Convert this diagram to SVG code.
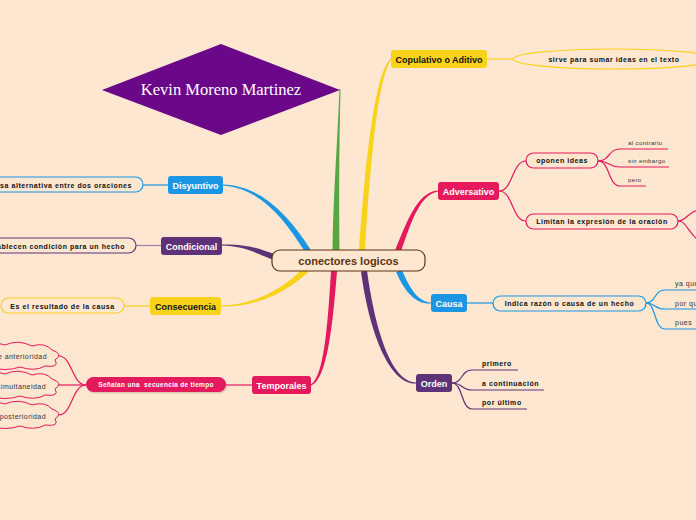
<svg xmlns="http://www.w3.org/2000/svg" width="696" height="520" viewBox="0 0 696 520">
<style>
.bg{fill:#fde7d1}
.sub{font-family:"Liberation Sans",Arial,sans-serif;font-weight:bold;font-size:9px;text-anchor:middle}
.w{fill:#ffffff}
.k{fill:#111111}
.pill{fill:#fde7d1;stroke-width:1.2}
.pt{font-family:"Liberation Sans",Arial,sans-serif;font-weight:bold;font-size:7px;letter-spacing:0.55px;fill:#111111}
.lt{font-family:"Liberation Sans",Arial,sans-serif;font-size:7px;letter-spacing:0.5px;fill:#333333}
.ct{font-family:"Liberation Sans",Arial,sans-serif;font-size:7px;letter-spacing:0.45px;fill:#333333}
.st{font-family:"Liberation Sans",Arial,sans-serif;font-size:6px;letter-spacing:0.4px;fill:#333333}
.thin{fill:none;stroke-width:1.2}
.yel{stroke:#f9d21c}.pink{stroke:#e5195d}.blue{stroke:#1b96e4}.purp{stroke:#5e3278}.lpurp{stroke:#a07fae}
.fy{fill:#f9d21c}.fp{fill:#e5195d}.fb{fill:#1b96e4}.fu{fill:#5e3278}.fg{fill:#57a640}
</style>
<rect class="bg" x="0" y="0" width="696" height="520"/>

<g id="connectors">
  <path class="fg" d="M332.5,251 C333,200 337,150 339.5,89 L340.5,89 C339,150 339,200 339.5,251 Z"/>
  <path class="fy" d="M359,251 C365.5,160 374.5,74 390.6,58.6 L391.4,59.4 C378,77 370.5,160 365,251 Z"/>
  <path class="fp" d="M395.2,249.9 C406,224.2 417,191.5 438,190.5 L438,191.5 C419,194.5 410,225.8 400.8,252.1 Z"/>
  <path class="fb" d="M401.8,269.8 C410.5,290.5 419,302 431,302.5 L431,303.5 C417,304.5 405.5,293.5 396.2,272.2 Z"/>
  <path class="fu" d="M367,270.6 C375,329 391,382 416,382.5 L416,383.5 C389,384.5 369,331 361,271.4 Z"/>
  <path class="fp" d="M337,271 C332.5,330 326.5,379 311.3,385.5 L310.7,384.5 C323.5,377 327.5,330 331,271 Z"/>
  <path class="fy" d="M308.1,272.2 C281.5,297 250,307 221,306.5 L221,305.5 C250,305 278.5,293 303.9,267.8 Z"/>
  <path class="fu" d="M275,254.2 C256,247.5 245,244 221,244.5 L221,245.5 C245,246 254,252.5 273,259.8 Z"/>
  <path class="fb" d="M310.5,249.4 C287,213.5 261,186 223,184.5 L223,185.5 C259,188 283,216.5 305.5,252.6 Z"/>

  <path class="thin yel" d="M487,59 L513,59"/>
  <path class="thin pink" d="M499,191 C513,191 512,161 526,161"/>
  <path class="thin pink" d="M499,191 C513,191 512,221 526,221"/>
  <path class="thin pink" d="M598,161 C610,161 608,149 620,149 L668,149"/>
  <path class="thin pink" d="M598,161 C610,161 608,167 620,167 L669,167"/>
  <path class="thin pink" d="M598,161 C610,161 608,186 620,186 L646,186"/>
  <path class="thin pink" d="M678,221 C686,221 688,212 698,210"/>
  <path class="thin pink" d="M678,221 C686,221 688,232 698,240"/>
  <path class="thin blue" d="M467,303 L493,303"/>
  <path class="thin blue" d="M646,303 C656,303 654,290 665,290 L700,290"/>
  <path class="thin blue" d="M646,303 C656,303 654,309 665,309 L700,309"/>
  <path class="thin blue" d="M646,303 C656,303 654,329 665,329 L700,329"/>
  <path class="thin purp" d="M452,383 C463,383 461,370 472,370 L518,370"/>
  <path class="thin purp" d="M452,383 C463,383 461,390 472,390 L544,390"/>
  <path class="thin purp" d="M452,383 C463,383 461,409 472,409 L527,409"/>
  <path class="thin pink" d="M226,385 L252,385"/>
  <path class="thin pink" d="M86,385 C72,385 72,356 59,356"/>
  <path class="thin pink" d="M86,385 L59,385"/>
  <path class="thin pink" d="M86,385 C72,385 72,415 59,415"/>
  <path class="thin blue" d="M143,185 L168,185"/>
  <path class="thin lpurp" d="M136,245.5 L161,245.5"/>
  <path class="thin yel" d="M124,306 L150,306"/>
</g>

<g id="title">
  <polygon points="102,90 221,44 340,90 221,135" fill="#6a0889"/>
  <text x="221" y="94.5" font-family="'Liberation Serif','Times New Roman',serif" font-size="16.5" fill="#ffffff" text-anchor="middle">Kevin Moreno Martinez</text>
</g>

<g id="central">
  <rect x="272" y="250" width="153" height="21" rx="8" fill="#fde7d1" stroke="#5c3310" stroke-width="1.2"/>
  <text x="348.5" y="265" font-family="'Liberation Sans',Arial,sans-serif" font-weight="bold" font-size="11" fill="#5c3310" text-anchor="middle">conectores logicos</text>
</g>

<g id="copulativo">
  <rect x="391" y="50" width="96" height="18" rx="3" class="fy"/>
  <text x="439" y="62.5" class="sub k">Copulativo o Aditivo</text>
</g>
<g id="copulativo-def">
  <ellipse cx="614" cy="59" rx="101" ry="10" class="pill yel"/>
  <text x="614" y="61.5" class="pt" text-anchor="middle">sirve para sumar ideas en el texto</text>
</g>

<g id="adversativo">
  <rect x="438" y="182" width="61" height="18" rx="3" class="fp"/>
  <text x="468.5" y="194.5" class="sub w">Adversativo</text>
</g>
<g id="oponen">
  <rect x="526" y="153" width="72" height="15" rx="7.5" class="pill pink"/>
  <text x="562" y="163" class="pt" text-anchor="middle">oponen ideas</text>
</g>
<g id="limitan">
  <rect x="526" y="214" width="152" height="15" rx="7.5" class="pill pink"/>
  <text x="602" y="224" class="pt" text-anchor="middle">Limitan la expresión de la oración</text>
</g>
<g id="al-contrario"><text x="628" y="145" class="st">al contrario</text></g>
<g id="sin-embargo"><text x="628" y="163" class="st">sin embargo</text></g>
<g id="pero"><text x="628" y="182" class="st">pero</text></g>

<g id="causa">
  <rect x="431" y="294" width="36" height="18" rx="3" class="fb"/>
  <text x="449" y="306.5" class="sub w">Causa</text>
</g>
<g id="indica">
  <rect x="493" y="296" width="153" height="15" rx="7.5" class="pill blue"/>
  <text x="569.5" y="306" class="pt" text-anchor="middle">Indica razón o causa de un hecho</text>
</g>
<g id="ya-que"><text x="675" y="286" class="lt">ya que</text></g>
<g id="por-que"><text x="675" y="305.5" class="lt">por que</text></g>
<g id="pues"><text x="675" y="325" class="lt">pues</text></g>

<g id="orden">
  <rect x="416" y="374" width="36" height="18" rx="3" class="fu"/>
  <text x="434" y="386.5" class="sub w">Orden</text>
</g>
<g id="primero"><text x="482" y="366" class="pt">primero</text></g>
<g id="a-continuacion"><text x="482" y="386" class="pt">a continuación</text></g>
<g id="por-ultimo"><text x="482" y="405" class="pt">por último</text></g>

<g id="temporales">
  <rect x="252" y="376" width="59" height="18" rx="3" class="fp"/>
  <text x="281.5" y="388.5" class="sub w">Temporales</text>
</g>
<g id="senalan">
  <rect x="87" y="378.5" width="140" height="15" rx="7.5" fill="#000000" opacity="0.12"/>
  <rect x="86" y="377" width="140" height="15" rx="7.5" class="fp"/>
  <text x="156" y="387" font-family="'Liberation Sans',Arial,sans-serif" font-weight="bold" font-size="6.5" letter-spacing="0.3" fill="#ffffff" text-anchor="middle" style="white-space:pre">Señalan una  secuencia de tiempo</text>
</g>
<g id="anterioridad">
  <path d="M-20,347 Q-10,340 5,345 Q18,339 32,346 Q45,342 52,350 Q64,354 55,360 Q60,368 45,366 Q35,372 20,367 Q5,372 -10,367 Z" fill="#fde7d1" stroke="#e5195d" stroke-width="1"/>
  <text x="47" y="359" class="ct" text-anchor="end">de anterioridad</text>
</g>
<g id="simultaneidad">
  <path d="M-20,376 Q-10,369 5,374 Q18,368 32,375 Q45,371 52,379 Q64,383 55,389 Q60,397 45,395 Q35,401 20,396 Q5,401 -10,396 Z" fill="#fde7d1" stroke="#e5195d" stroke-width="1"/>
  <text x="46" y="388.5" class="ct" text-anchor="end">de simultaneidad</text>
</g>
<g id="posterioridad">
  <path d="M-20,406 Q-10,399 5,404 Q18,398 32,405 Q45,401 52,409 Q64,413 55,419 Q60,427 45,425 Q35,431 20,426 Q5,431 -10,426 Z" fill="#fde7d1" stroke="#e5195d" stroke-width="1"/>
  <text x="46" y="418.5" class="ct" text-anchor="end">de posterioridad</text>
</g>

<g id="disyuntivo">
  <rect x="168" y="176" width="55" height="18" rx="3" class="fb"/>
  <text x="195.5" y="188.5" class="sub w">Disyuntivo</text>
</g>
<g id="disyuntivo-def">
  <rect x="-40" y="177" width="183" height="15" rx="7.5" class="pill blue"/>
  <text x="132" y="187.5" class="pt" text-anchor="end">Expresa alternativa entre dos oraciones</text>
</g>

<g id="condicional">
  <rect x="161" y="237" width="61" height="18" rx="3" class="fu"/>
  <text x="191.5" y="249.5" class="sub w">Condicional</text>
</g>
<g id="condicional-def">
  <rect x="-40" y="238" width="176" height="15" rx="7.5" class="pill purp"/>
  <text x="125" y="248.5" class="pt" text-anchor="end">Establecen condición para un hecho</text>
</g>

<g id="consecuencia">
  <rect x="150" y="297" width="71" height="18" rx="3" class="fy"/>
  <text x="185.5" y="309.5" class="sub k">Consecuencia</text>
</g>
<g id="consecuencia-def">
  <rect x="1" y="298" width="123" height="15" rx="7.5" class="pill yel"/>
  <text x="62.5" y="308.5" class="pt" text-anchor="middle">Es el resultado de la causa</text>
</g>
</svg>
